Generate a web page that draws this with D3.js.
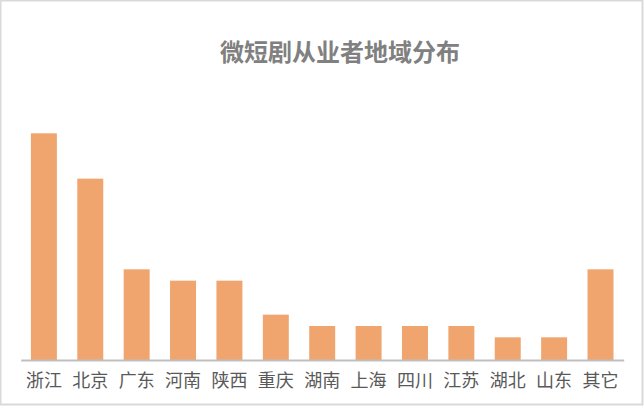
<!DOCTYPE html>
<html><head><meta charset="utf-8">
<script src="https://cdn.jsdelivr.net/npm/d3@7"></script>
<style>html,body{margin:0;padding:0;background:#fff;}svg{display:block;}</style>
</head><body>
<script>
const categories = ["浙江","北京","广东","河南","陕西","重庆","湖南","上海","四川","江苏","湖北","山东","其它"];
const values = [20,16,8,7,7,4,3,3,3,3,2,2,8];
const title = "微短剧从业者地域分布";

const W = 644, H = 407;
const svg = d3.select("body").append("svg").attr("width", W).attr("height", H);
svg.append("rect").attr("x",0.5).attr("y",0.5).attr("width",W-2).attr("height",H-3)
  .attr("fill","#fff").attr("stroke","#d9d9d9").attr("stroke-width",2);

const x0 = 20.7, x1 = 623.7, base = 360;
const x = d3.scaleBand().domain(categories).range([x0, x1]).paddingInner(0.44).paddingOuter(0.22);
const y = d3.scaleLinear().domain([0, 20]).range([base, 133.3]);

svg.append("g").selectAll("rect").data(values).join("rect")
  .attr("x", (d,i) => x(categories[i]))
  .attr("width", x.bandwidth())
  .attr("y", d => y(d))
  .attr("height", d => base - y(d))
  .attr("fill", "#f0a56e");

const axis = svg.append("g").attr("transform", `translate(0,${base})`)
  .call(d3.axisBottom(x).tickSize(0).tickPadding(14));
axis.select(".domain").attr("stroke","#bfbfbf").attr("stroke-width",2);
axis.selectAll("text").attr("font-family","'Noto Sans CJK SC', sans-serif")
  .attr("font-size",18).attr("fill","#595959");

svg.append("text").attr("x", 340).attr("y", 50).attr("text-anchor","middle")
  .attr("dominant-baseline","central")
  .attr("font-family","'Noto Sans CJK SC', sans-serif").attr("font-size",24)
  .attr("font-weight","bold").attr("fill","#808080").text(title);
</script>
</body></html>
